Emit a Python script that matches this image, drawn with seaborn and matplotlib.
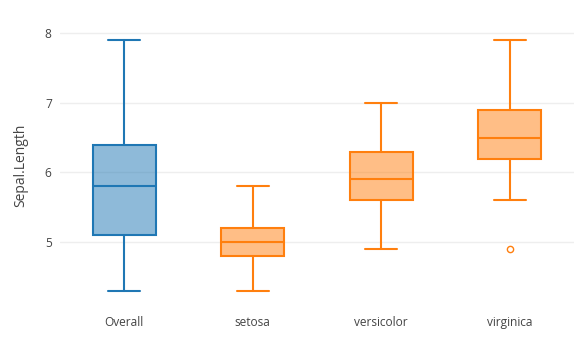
import matplotlib
matplotlib.use("Agg")
import matplotlib.pyplot as plt
import seaborn as sns

# Five-number summaries of Sepal.Length per group
groups = ["Overall", "setosa", "versicolor", "virginica"]
whisker_low = [4.3, 4.3, 4.9, 5.6]
q1 = [5.1, 4.8, 5.6, 6.2]
median = [5.8, 5.0, 5.9, 6.5]
q3 = [6.4, 5.2, 6.3, 6.9]
whisker_high = [7.9, 5.8, 7.0, 7.9]
outliers = [[], [], [], [4.9]]

y_ticks = [5, 6, 7, 8]

sns.set_style("white")
plt.rcParams["font.family"] = ["Open Sans", "DejaVu Sans"]

blue, orange = sns.color_palette("tab10")[:2]
colors = [blue, orange, orange, orange]

fig = plt.figure(figsize=(5.83, 3.45), dpi=100)
ax = fig.add_axes([60 / 583, 40 / 345, 514 / 583, 279 / 345])

stats = [
    dict(label=g, whislo=lo, q1=a, med=m, q3=b, whishi=hi, fliers=f)
    for g, lo, a, m, b, hi, f in zip(groups, whisker_low, q1, median, q3,
                                     whisker_high, outliers)
]

for i, (s, c) in enumerate(zip(stats, colors)):
    ax.bxp(
        [s], positions=[i], widths=0.49, capwidths=0.25,
        patch_artist=True, showfliers=True,
        boxprops=dict(facecolor=(*c, 0.5), edgecolor=c, linewidth=1.5),
        medianprops=dict(color=c, linewidth=1.5),
        whiskerprops=dict(color=c, linewidth=1.5),
        capprops=dict(color=c, linewidth=1.5),
        flierprops=dict(marker="o", markersize=4.5, markerfacecolor="none",
                        markeredgecolor=c, markeredgewidth=1.0),
    )

ax.set_xlim(-0.5, 3.5)
ax.set_ylim(4.1, 8.1)
ax.set_yticks(y_ticks)
ax.set_xticks(range(len(groups)))
ax.set_xticklabels(groups)
ax.yaxis.grid(True, color="#eeeeee", linewidth=1)
ax.set_axisbelow(True)
for sp in ax.spines.values():
    sp.set_visible(False)
ax.tick_params(axis="both", length=0, labelsize=8.6, colors="#444444")
ax.tick_params(axis="y", pad=6)
ax.tick_params(axis="x", pad=8)
ax.set_ylabel("Sepal.Length", fontsize=10, color="#444444", labelpad=12)

fig.savefig("out.png", dpi=100)
